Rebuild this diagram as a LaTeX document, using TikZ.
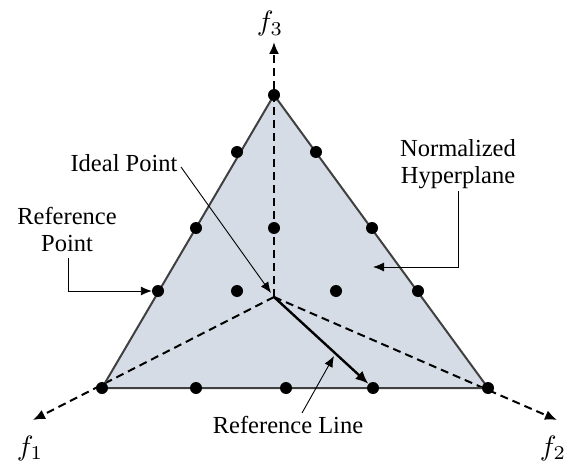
\RequirePackage{fix-cm}
\documentclass[tikz,border=0pt]{standalone}
\usepackage{fontspec}
\setmainfont{Liberation Serif}
\usetikzlibrary{arrows.meta}
\definecolor{planefill}{HTML}{D6DCE5}
\definecolor{edgegray}{HTML}{404040}
\begin{document}
\begin{tikzpicture}[x=1pt,y=-1pt,
  dot/.style={circle,fill=black,inner sep=0pt,minimum size=12pt},
  axis/.style={line width=2pt,dash pattern=on 8pt off 5pt,-{Latex[length=12pt,width=10pt]}},
  edge/.style={line width=2pt,draw=edgegray},
  ptr/.style={line width=0.9pt,-{Latex[length=11pt,width=9pt]}},
  refarrow/.style={line width=2.4pt,-{Latex[length=13pt,width=11pt]}},
  lbl/.style={font=\fontsize{24.5}{27}\selectfont,align=center,inner sep=0pt},
  flbl/.style={inner sep=0pt}]
\useasboundingbox (0,0) rectangle (588,470);
\coordinate (O) at (274,297);
\coordinate (T) at (274,95);
\coordinate (L) at (102,388);
\coordinate (R) at (488,388);
\coordinate (X3) at (274,42);
\coordinate (X1) at (33,420);
\coordinate (X2) at (557,420);
% plane
\fill[planefill] (T) -- (L) -- (R) -- cycle;
% dashed axes
\draw[axis] (O) -- (X3);
\draw[axis] (O) -- (X1);
\draw[axis] (O) -- (X2);
% edges
\draw[edge] (T) -- (L) -- (R) -- cycle;
% labels of axes
\node[flbl] (f3) at (270,24) {\scalebox{2.8}{$f_3$}};
\node[flbl] (f1) at (30,448) {\scalebox{2.8}{$f_1$}};
\node[flbl] (f2) at (553,448) {\scalebox{2.8}{$f_2$}};
% reference points
\node[dot] (v3) at (T) {};
\node[dot] (v1) at (L) {};
\node[dot] (v2) at (R) {};
\node[dot] (l1) at (237,152) {};
\node[dot] (l2) at (196,228) {};
\node[dot] (l3) at (158,291) {};
\node[dot] (r1) at (316,152) {};
\node[dot] (r2) at (372,228) {};
\node[dot] (r3) at (418,291) {};
\node[dot] (b1) at (196,388) {};
\node[dot] (b2) at (286,388) {};
\node[dot] (b3) at (373,388) {};
\node[dot] (c1) at (274,228) {};
\node[dot] (c2) at (237,291) {};
\node[dot] (c3) at (336,291) {};
% texts
\node[lbl] (ideal) at (124,163) {Ideal Point};
\node[lbl] (refpt) at (67,229) {Reference\\Point};
\node[lbl] (hyp) at (458,164) {Normalized\\Hyperplane};
\node[lbl] (refln) at (288,425) {Reference Line};
% connectors
\coordinate (ia) at (181,167);
\coordinate (ib) at (271,293);
\draw[ptr] (ia) -- (ib);
\draw[refarrow] (O) -- (b3);
\coordinate (rpa) at (68,258);
\draw[ptr] (rpa) |- (l3.west);
\coordinate (hpa) at (458,191);
\coordinate (hpb) at (373,267);
\draw[ptr] (hpa) |- (hpb);
\coordinate (rla) at (302,413);
\coordinate (rlb) at (334,356);
\draw[ptr] (rla) -- (rlb);
\end{tikzpicture}
\end{document}
